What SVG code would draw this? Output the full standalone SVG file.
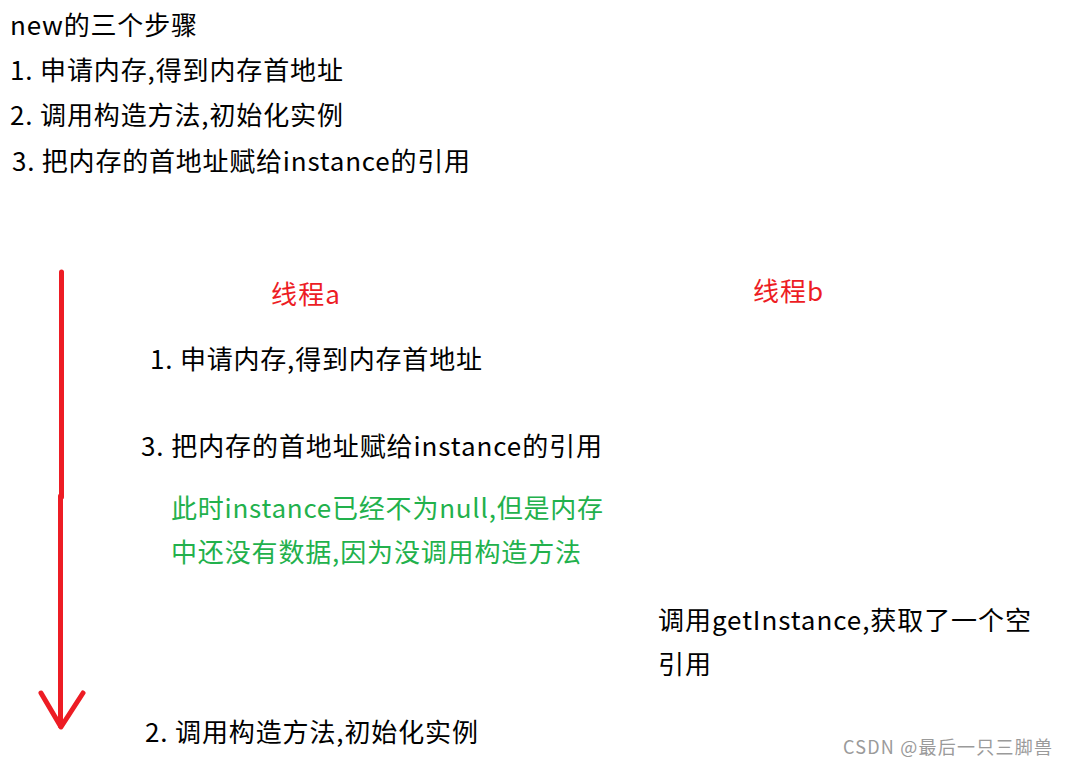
<svg xmlns="http://www.w3.org/2000/svg" width="1069" height="765" viewBox="0 0 1069 765">
<style>
text{font-family:"Microsoft YaHei","Noto Sans CJK SC","Noto Sans",sans-serif;font-size:26px;fill:#000}
.red{fill:#ED1C24}
.green{fill:#22B14C}
.wm{fill:#9a9a9a;font-size:18px}
.arrow{stroke:#ED1C24;stroke-width:5;fill:none;stroke-linecap:round;stroke-linejoin:round}
</style>
<rect width="1069" height="765" fill="#fff"/>
<g id="steps">
<text x="10" y="35" textLength="187">new的三个步骤</text>
<text x="10" y="80" textLength="333">1. 申请内存,得到内存首地址</text>
<text x="10" y="125" textLength="333">2. 调用构造方法,初始化实例</text>
<text x="12" y="171" textLength="458">3. 把内存的首地址赋给instance的引用</text>
</g>
<g id="connectors">
<path class="arrow" d="M61.5,272 V497" stroke-linecap="butt"/>
<path class="arrow" d="M60.5,496 V726"/>
<path class="arrow" d="M41,693 L61,727 L83,693"/>
</g>
<g id="thread-a">
<text class="red" x="271" y="304" textLength="69">线程a</text>
</g>
<g id="thread-b">
<text class="red" x="753" y="301" textLength="70">线程b</text>
</g>
<g id="a-step1">
<text x="150" y="369" textLength="332">1. 申请内存,得到内存首地址</text>
</g>
<g id="a-step3">
<text x="141" y="456" textLength="461">3. 把内存的首地址赋给instance的引用</text>
</g>
<g id="a-note">
<text class="green" x="171" y="518" textLength="432">此时instance已经不为null,但是内存</text>
<text class="green" x="171" y="562" textLength="410">中还没有数据,因为没调用构造方法</text>
</g>
<g id="b-step">
<text x="658" y="630" textLength="373">调用getInstance,获取了一个空</text>
<text x="658" y="674" textLength="53">引用</text>
</g>
<g id="a-step2">
<text x="145" y="742" textLength="333">2. 调用构造方法,初始化实例</text>
</g>
<text class="wm" x="843" y="754" textLength="209">CSDN @最后一只三脚兽</text>
</svg>
